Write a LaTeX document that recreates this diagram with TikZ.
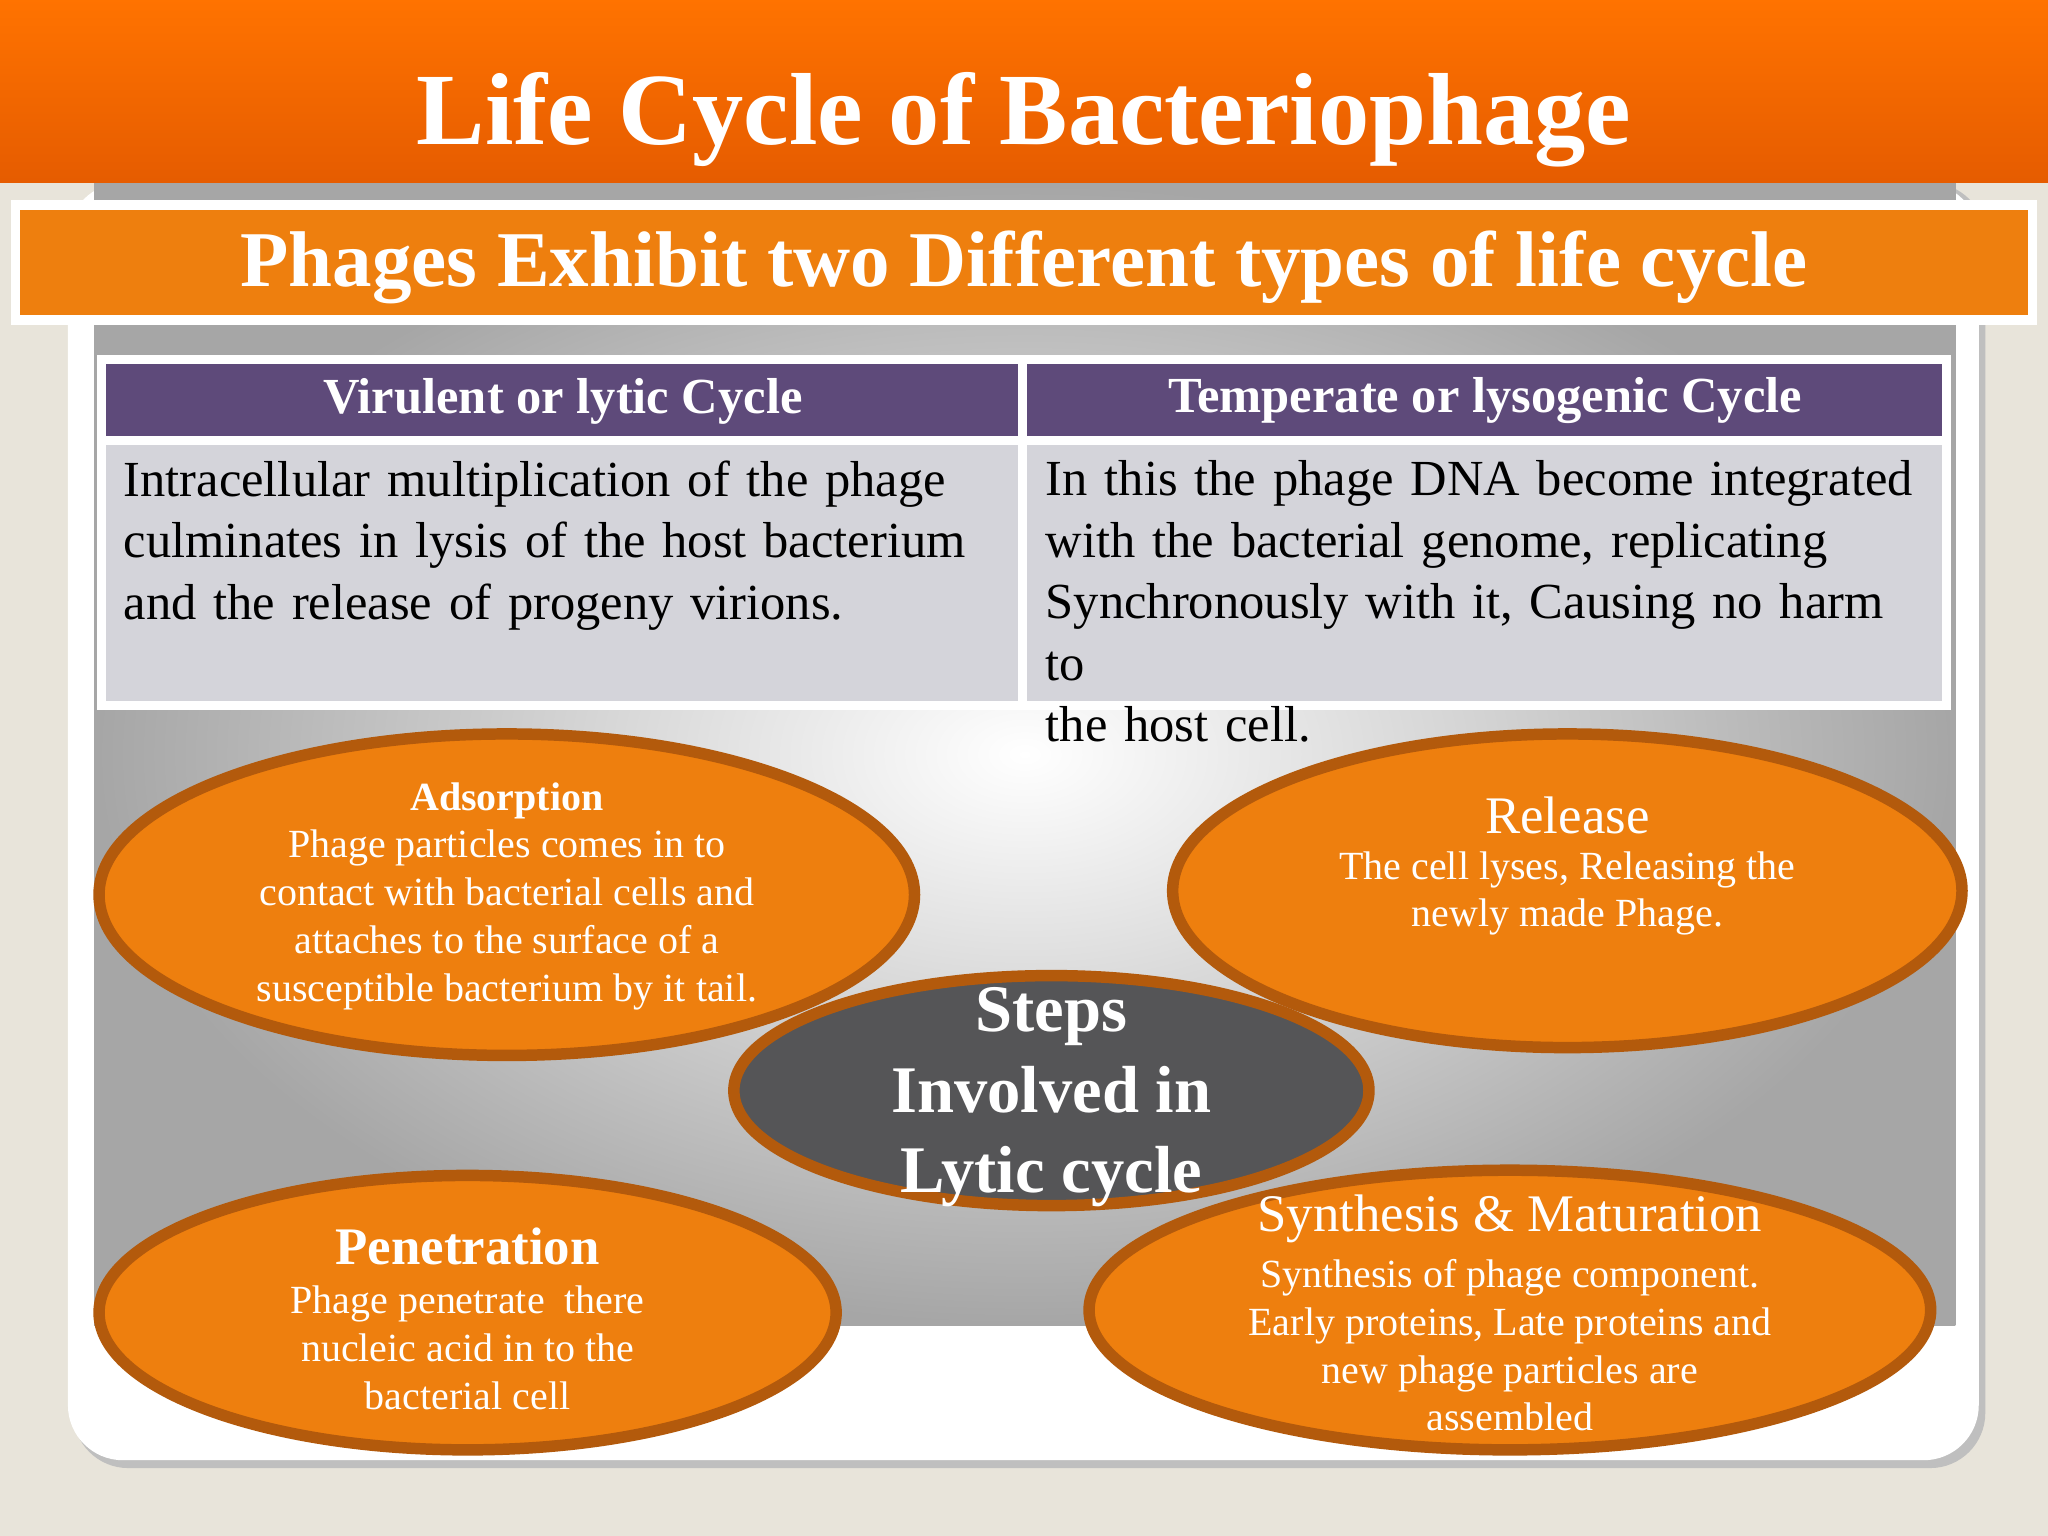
\documentclass[tikz,border=0pt]{standalone}
\usepackage{fontspec}
\setmainfont{Liberation Serif}
\usetikzlibrary{shapes.geometric}
\definecolor{bg}{HTML}{E8E4DA}
\definecolor{org}{HTML}{EE7F0E}
\definecolor{orgd}{HTML}{B35A0C}
\definecolor{purp}{HTML}{5E4A7A}
\definecolor{cellg}{HTML}{D4D4DA}
\definecolor{dark}{HTML}{555557}
\tikzset{
 ell/.style={ellipse,draw=orgd,line width=2.5pt,fill=org,text=white,align=center,inner sep=0pt},
 eltxt/.style={align=center,text=white,font=\fontsize{8.7}{10.4}\selectfont},
 elhead/.style={text=white,font=\fontsize{11.5}{14}\selectfont},
 cell/.style={anchor=north west,align=left,text width=6.8cm,font=\fontsize{11}{13.4}\selectfont,inner sep=0pt},
}
\begin{document}
\begin{tikzpicture}[x=0.01cm,y=-0.01cm]
\fill[bg] (0,0) rectangle (1568,1176);
\useasboundingbox (0,0) rectangle (1568,1176);
\fill[black!25,rounded corners=12] (56,140) rectangle (1520,1124);
\fill[white,rounded corners=12] (52,140) rectangle (1515,1118);
\shade[inner color=white,outer color=black!35] (72,140) rectangle (1497,1015);
\shade[top color=orange!90!red,bottom color=orange!80!red!90!black] (0,0) rectangle (1568,140);
\node (title) at (784,92) [text=white,font=\fontsize{22.3}{27}\selectfont\bfseries] {Life Cycle of Bacteriophage};
\node (sub) [draw=white,line width=2pt,fill=org,minimum width=15.43cm,minimum height=0.88cm] at (784,201) {};
\node at (784,205) [text=white,font=\fontsize{17.2}{20}\selectfont\bfseries] {Phages Exhibit two Different types of life cycle};
\fill[purp] (78,275) rectangle (1490,335);
\fill[cellg] (78,340) rectangle (1490,540);
\draw[white,line width=2pt] (78,275) rectangle (1490,540) (783,275)--(783,540) (78,337)--(1490,337);
\node (h1) at (431,307) [text=white,font=\fontsize{11}{13}\selectfont\bfseries] {Virulent or lytic Cycle};
\node (h2) at (1137,307) [text=white,font=\fontsize{11}{13}\selectfont\bfseries] {Temperate or lysogenic Cycle};
\node (c1) [cell] at (94,352) {Intracellular multiplication of the phage\\culminates in lysis of the host bacterium\\and the release of progeny virions.};
\node (c2) [cell] at (800,352) {In this the phage DNA become integrated\\with the bacterial genome, replicating\\Synchronously with it, Causing no harm to\\the host cell.};
\node (ad) [ell,minimum width=6.24cm,minimum height=2.46cm] at (388,685) {};
\node [eltxt] at (388,686) {\textbf{Adsorption}\\Phage particles comes in to\\contact with bacterial cells and\\attaches to the surface of a\\susceptible bacterium by it tail.};
\node (rel) [ell,minimum width=6.04cm,minimum height=2.40cm] at (1200,682) {};
\node [elhead] at (1200,624) {Release};
\node [eltxt] at (1200,684) {The cell lyses, Releasing the\\newly made Phage.};
\node (pen) [ell,minimum width=5.64cm,minimum height=2.10cm] at (358,1005) {};
\node [elhead,font=\fontsize{11.5}{14}\selectfont\bfseries] at (358,954) {Penetration};
\node [eltxt] at (358,1032) {Phage penetrate~ there\\nucleic acid in to the\\bacterial cell};
\node (syn) [ell,minimum width=6.44cm,minimum height=2.14cm] at (1156,1003) {};
\node [elhead] at (1156,933) {Synthesis \& Maturation};
\node [eltxt] at (1156,1030) {Synthesis of phage component.\\Early proteins, Late proteins and\\new phage particles are\\assembled};
\node (ctr) [ell,fill=dark,minimum width=4.86cm,minimum height=1.76cm] at (805,835) {};
\node [align=center,text=white,font=\fontsize{14.5}{17.6}\selectfont\bfseries] at (805,840) {Steps\\Involved in\\Lytic cycle};
\end{tikzpicture}
\end{document}
